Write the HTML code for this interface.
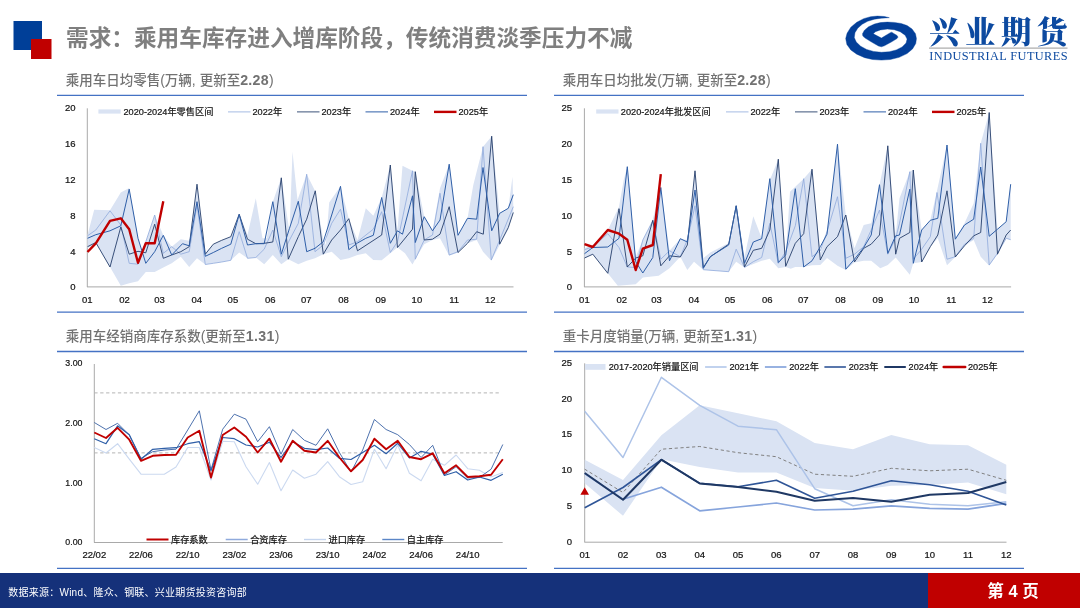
<!DOCTYPE html>
<html lang="zh"><head><meta charset="utf-8"><title>需求</title>
<style>
html,body{margin:0;padding:0;background:#fff;}
body{width:1080px;height:608px;overflow:hidden;font-family:"Liberation Sans", "Noto Sans CJK SC", sans-serif;}
svg{display:block;}
text{font-family:"Liberation Sans", "Noto Sans CJK SC", sans-serif;}
.title{font-size:22.67px;font-weight:700;fill:#7f7f7f;}
.ptitle{font-size:13.5px;font-weight:500;fill:#727272;}
.lt{font-size:14px;font-weight:400;}
.ltb{font-size:14.2px;font-weight:700;letter-spacing:0.3px;}
.src{font-size:10px;fill:#fff;}
.pg{font-size:16.5px;font-weight:700;fill:#fff;}
.ax{font-size:9.5px;fill:#141414;stroke:#141414;stroke-width:0.22px;}
.lg{font-size:9.2px;fill:#141414;stroke:#141414;stroke-width:0.2px;}
.logo1{font-family:"Liberation Serif", "Noto Serif CJK SC", serif;font-weight:900;font-size:30.5px;fill:#0d4aa0;}
.logo2{font-family:"Liberation Serif", "Noto Serif CJK SC", serif;font-size:12.3px;fill:#0d4aa0;}
</style></head><body>
<svg width="1080" height="608" viewBox="0 0 1080 608">
<rect x="13.5" y="21" width="28.5" height="29" fill="#003f98"/>
<rect x="31" y="39" width="20.5" height="20" fill="#c00000"/>
<text x="66" y="45.6" class="title">需求：乘用车库存进入增库阶段，传统消费淡季压力不减</text>
<rect x="0" y="573" width="1080" height="35" fill="#15317a"/>
<rect x="928" y="573" width="152" height="35" fill="#c00000"/>
<text x="8.3" y="595.5" class="src" textLength="238.4" lengthAdjust="spacing">数据来源：Wind、隆众、钢联、兴业期货投资咨询部</text>
<text x="1013" y="597" class="pg" text-anchor="middle">第 4 页</text>
<text x="65.7" y="85" class="ptitle">乘用车日均零售<tspan class="lt">(</tspan>万辆<tspan class="lt">, </tspan>更新至<tspan class="ltb">2.28</tspan><tspan class="lt">)</tspan></text>
<line x1="57" x2="527" y1="95.3" y2="95.3" stroke="#4472c4" stroke-width="1.3"/>
<line x1="57" x2="527" y1="312.2" y2="312.2" stroke="#4472c4" stroke-width="1.3"/>
<text x="562.7" y="85" class="ptitle">乘用车日均批发<tspan class="lt">(</tspan>万辆<tspan class="lt">, </tspan>更新至<tspan class="ltb">2.28</tspan><tspan class="lt">)</tspan></text>
<line x1="554" x2="1024" y1="95.3" y2="95.3" stroke="#4472c4" stroke-width="1.3"/>
<line x1="554" x2="1024" y1="312.2" y2="312.2" stroke="#4472c4" stroke-width="1.3"/>
<text x="65.7" y="341" class="ptitle">乘用车经销商库存系数<tspan class="lt">(</tspan>更新至<tspan class="ltb">1.31</tspan><tspan class="lt">)</tspan></text>
<line x1="57" x2="527" y1="351.5" y2="351.5" stroke="#4472c4" stroke-width="1.3"/>
<line x1="57" x2="527" y1="568.4" y2="568.4" stroke="#4472c4" stroke-width="1.3"/>
<text x="562.7" y="341" class="ptitle">重卡月度销量<tspan class="lt">(</tspan>万辆<tspan class="lt">, </tspan>更新至<tspan class="ltb">1.31</tspan><tspan class="lt">)</tspan></text>
<line x1="554" x2="1024" y1="351.5" y2="351.5" stroke="#4472c4" stroke-width="1.3"/>
<line x1="554" x2="1024" y1="568.4" y2="568.4" stroke="#4472c4" stroke-width="1.3"/>
<line x1="87.3" x2="87.3" y1="108.3" y2="287" stroke="#a9a9a9" stroke-width="1"/>
<line x1="87" x2="513.5" y1="286.9" y2="286.9" stroke="#a9a9a9" stroke-width="1"/>
<text x="75.5" y="110.7" class="ax" text-anchor="end">20</text>
<text x="75.5" y="146.7" class="ax" text-anchor="end">16</text>
<text x="75.5" y="182.7" class="ax" text-anchor="end">12</text>
<text x="75.5" y="218.5" class="ax" text-anchor="end">8</text>
<text x="75.5" y="254.5" class="ax" text-anchor="end">4</text>
<text x="75.5" y="290.3" class="ax" text-anchor="end">0</text>
<text x="87.3" y="303" class="ax" text-anchor="middle">01</text>
<text x="124.6" y="303" class="ax" text-anchor="middle">02</text>
<text x="159.5" y="303" class="ax" text-anchor="middle">03</text>
<text x="196.8" y="303" class="ax" text-anchor="middle">04</text>
<text x="232.9" y="303" class="ax" text-anchor="middle">05</text>
<text x="270.2" y="303" class="ax" text-anchor="middle">06</text>
<text x="306.2" y="303" class="ax" text-anchor="middle">07</text>
<text x="343.5" y="303" class="ax" text-anchor="middle">08</text>
<text x="380.8" y="303" class="ax" text-anchor="middle">09</text>
<text x="416.9" y="303" class="ax" text-anchor="middle">10</text>
<text x="454.2" y="303" class="ax" text-anchor="middle">11</text>
<text x="490.3" y="303" class="ax" text-anchor="middle">12</text>
<polygon points="87.5,235.0 94.2,209.7 110.0,210.3 120.8,192.5 129.2,188.0 138.0,238.3 141.7,251.7 145.8,241.7 154.7,215.0 163.3,235.3 171.7,246.7 180.8,239.2 189.2,240.8 197.0,184.2 205.3,253.3 213.3,244.2 221.7,240.3 230.8,236.7 239.2,214.2 247.5,235.0 255.8,198.3 262.5,238.3 266.7,238.3 272.8,201.7 281.3,177.8 289.5,231.7 292.5,151.7 297.5,200.0 306.7,174.2 315.0,190.8 323.3,240.0 325.8,245.0 329.2,202.5 340.5,186.3 348.8,218.7 357.5,240.0 365.8,208.3 373.3,215.8 381.7,197.5 390.3,165.0 397.5,230.0 402.5,165.8 412.5,170.8 415.3,171.7 424.2,216.7 432.5,230.8 440.0,188.3 449.2,164.2 458.0,235.0 467.5,218.3 473.3,185.0 483.0,146.7 491.7,136.2 499.7,213.3 508.3,208.3 512.5,176.7 513.3,206.7 513.3,212.5 508.3,229.2 499.7,245.0 491.3,260.8 483.0,251.7 476.7,240.0 467.5,243.3 458.0,252.5 449.2,255.8 440.0,238.3 432.5,240.0 424.2,244.2 415.3,259.2 412.5,264.5 405.0,253.3 397.5,247.5 390.3,253.3 381.7,260.3 373.3,260.0 365.8,253.3 357.5,255.0 348.8,258.3 340.5,260.0 331.7,251.7 323.3,254.2 315.0,258.3 306.7,260.8 298.3,264.2 288.3,259.2 281.3,264.2 272.8,255.0 264.2,264.2 255.8,257.5 247.5,258.3 239.2,252.5 230.8,260.3 221.7,262.0 213.3,263.3 205.3,264.5 197.0,258.3 189.2,267.0 180.8,256.7 171.7,263.3 163.3,267.5 154.7,272.0 145.8,272.0 138.0,281.3 129.2,283.3 120.8,285.8 110.0,267.0 95.8,243.3 87.5,248.3" fill="#dae3f3"/>
<polyline points="87.5,235.8 95.8,230.0 110.0,210.8 120.8,225.0 129.2,263.3 138.0,264.2 145.8,241.7 154.7,215.0 163.3,253.3 171.7,246.7 180.8,254.2 189.2,251.7 197.0,205.0 205.3,264.5 213.3,263.3 221.7,262.0 230.8,260.3 239.2,231.7 247.5,258.3 255.8,257.5 264.2,249.2 272.8,230.0 281.3,256.7 289.5,240.0 298.3,223.3 306.7,174.2 315.0,251.7 323.3,245.0 331.7,223.3 340.5,209.2 348.8,245.0 357.5,241.7 373.3,229.2 381.7,211.7 390.3,252.5 397.5,241.7 412.5,170.8 415.3,259.2 424.2,240.0 432.5,235.0 440.0,193.3 449.2,255.0 458.0,251.7 467.5,240.0 476.7,239.2 483.0,146.7 491.3,260.0 499.7,240.0 513.3,206.7" fill="none" stroke="#8faadc" stroke-width="0.8" stroke-linejoin="round" />
<polyline points="87.5,246.7 95.8,242.5 110.0,267.0 120.8,227.0 129.2,254.2 138.0,251.3 145.8,252.8 154.7,224.2 163.3,258.3 171.7,255.0 180.8,251.7 189.2,246.7 197.0,184.2 205.3,254.2 213.3,244.2 221.7,240.3 230.8,236.7 239.2,214.2 247.5,239.2 255.8,243.7 264.2,243.3 272.8,242.0 281.3,177.8 288.3,259.2 298.3,236.7 306.7,219.2 315.3,190.8 323.3,254.2 331.7,240.0 340.5,230.0 348.8,218.7 357.5,250.8 381.7,235.0 390.3,165.0 397.5,247.5 412.5,229.2 415.3,171.7 424.2,240.0 432.5,239.2 440.0,234.2 449.2,206.7 458.0,252.5 467.5,243.3 476.7,231.7 483.3,234.2 491.7,136.2 499.7,244.2 508.3,227.5 513.3,212.5" fill="none" stroke="#263e6b" stroke-width="0.9" stroke-linejoin="round" />
<polyline points="87.5,238.3 95.8,234.7 110.0,230.8 120.8,225.8 129.2,189.2 138.0,238.3 145.8,263.3 154.7,251.7 163.3,235.3 171.7,255.0 182.5,243.7 189.2,245.8 197.0,201.7 205.3,256.3 213.3,252.5 221.7,248.3 230.8,244.2 239.2,214.5 247.5,245.0 255.8,243.7 264.2,243.7 272.8,201.7 281.3,254.2 289.5,228.3 298.3,201.3 306.7,251.7 315.0,248.3 323.3,241.7 331.7,215.0 340.5,186.3 348.8,249.7 357.5,243.0 365.8,238.3 373.3,235.3 381.7,197.5 390.3,243.3 397.5,230.8 402.5,234.2 412.5,195.8 415.3,242.5 424.2,216.7 432.5,230.8 440.0,220.0 449.2,164.2 458.0,235.3 467.5,218.3 476.7,219.2 483.0,167.5 491.7,230.8 499.7,213.3 508.3,208.3 513.3,194.7" fill="none" stroke="#2f5fa8" stroke-width="1" stroke-linejoin="round" />
<polyline points="87.5,252.0 95.8,243.3 110.0,220.8 120.8,218.3 129.2,229.2 138.0,262.8 145.8,243.3 154.7,243.3 163.3,201.3" fill="none" stroke="#c00000" stroke-width="2.4" stroke-linejoin="round" />
<rect x="98.4" y="109.4" width="22.3" height="4.2" fill="#dae3f3"/>
<text x="123.5" y="114.6" class="lg" text-anchor="start">2020-2024年零售区间</text>
<line x1="228" x2="250.5" y1="111.9" y2="111.9" stroke="#8faadc" stroke-width="0.8"/>
<text x="252.5" y="114.6" class="lg" text-anchor="start">2022年</text>
<line x1="297" x2="319.5" y1="111.9" y2="111.9" stroke="#263e6b" stroke-width="0.9"/>
<text x="321.5" y="114.6" class="lg" text-anchor="start">2023年</text>
<line x1="365.5" x2="388" y1="111.9" y2="111.9" stroke="#2f5fa8" stroke-width="1"/>
<text x="390" y="114.6" class="lg" text-anchor="start">2024年</text>
<line x1="434" x2="456.5" y1="111.9" y2="111.9" stroke="#c00000" stroke-width="2.4"/>
<text x="458.5" y="114.6" class="lg" text-anchor="start">2025年</text>
<line x1="584.4" x2="584.4" y1="108.3" y2="287" stroke="#a9a9a9" stroke-width="1"/>
<line x1="584.1" x2="1011.1" y1="286.9" y2="286.9" stroke="#a9a9a9" stroke-width="1"/>
<text x="572" y="111.2" class="ax" text-anchor="end">25</text>
<text x="572" y="147" class="ax" text-anchor="end">20</text>
<text x="572" y="182.9" class="ax" text-anchor="end">15</text>
<text x="572" y="218.7" class="ax" text-anchor="end">10</text>
<text x="572" y="254.5" class="ax" text-anchor="end">5</text>
<text x="572" y="290.3" class="ax" text-anchor="end">0</text>
<text x="584.4" y="303" class="ax" text-anchor="middle">01</text>
<text x="621.7" y="303" class="ax" text-anchor="middle">02</text>
<text x="656.6" y="303" class="ax" text-anchor="middle">03</text>
<text x="693.9" y="303" class="ax" text-anchor="middle">04</text>
<text x="730" y="303" class="ax" text-anchor="middle">05</text>
<text x="767.3" y="303" class="ax" text-anchor="middle">06</text>
<text x="803.3" y="303" class="ax" text-anchor="middle">07</text>
<text x="840.6" y="303" class="ax" text-anchor="middle">08</text>
<text x="877.9" y="303" class="ax" text-anchor="middle">09</text>
<text x="914" y="303" class="ax" text-anchor="middle">10</text>
<text x="951.3" y="303" class="ax" text-anchor="middle">11</text>
<text x="987.4" y="303" class="ax" text-anchor="middle">12</text>
<polygon points="584.5,248.3 592.8,245.0 607.8,230.0 619.0,206.7 623.7,180.0 627.3,166.7 635.7,256.7 642.8,240.0 652.8,219.2 660.8,187.5 669.5,250.8 680.3,238.7 687.3,240.0 695.0,170.8 703.3,258.3 710.3,252.5 728.7,243.0 736.2,205.8 744.5,256.7 753.3,216.3 761.7,238.3 769.8,178.7 771.2,176.7 778.3,159.2 785.7,256.7 790.0,191.7 803.7,178.7 812.0,169.2 820.3,253.3 827.0,231.7 837.5,144.2 845.8,215.0 854.5,248.3 863.7,225.0 871.2,223.3 879.5,184.7 887.8,145.8 895.7,235.0 899.5,198.3 909.8,171.7 913.3,170.0 921.7,230.0 930.3,220.3 937.0,190.8 947.0,145.0 955.3,238.3 964.5,223.3 973.7,203.3 980.7,143.3 989.2,112.5 997.5,229.2 1006.2,221.7 1010.7,184.2 1010.7,239.7 1006.2,238.3 997.5,254.2 989.2,265.8 980.7,256.7 973.7,240.0 964.5,245.8 955.3,257.0 947.0,265.3 937.8,238.3 930.3,246.7 921.7,262.0 913.3,263.3 909.8,274.7 895.7,257.5 887.8,265.0 880.3,268.3 871.2,260.8 863.7,260.8 854.5,262.5 845.8,270.0 837.5,265.8 827.0,258.0 820.3,265.0 812.0,265.3 803.7,267.0 795.3,267.0 790.7,268.7 785.7,267.0 778.3,268.3 769.8,258.7 761.7,260.8 744.5,267.5 736.2,261.7 728.7,271.7 703.3,269.7 694.0,261.7 687.3,270.0 680.3,256.7 669.5,268.3 658.7,275.8 642.8,277.5 635.7,284.2 617.8,285.8 607.8,273.3 592.8,254.2 584.5,258.0" fill="#dae3f3"/>
<polyline points="584.5,249.7 592.8,246.7 607.8,233.7 619.0,247.5 627.3,267.0 635.7,267.5 642.8,240.0 652.8,220.8 660.8,259.2 669.5,250.8 680.3,256.7 687.3,240.0 695.0,205.8 703.3,269.7 728.7,271.7 736.2,249.2 744.5,267.5 753.3,261.7 761.7,257.5 769.8,223.3 778.3,263.3 785.7,251.7 795.3,225.8 803.7,178.7 812.0,256.7 820.3,250.8 827.0,231.7 837.5,196.7 845.8,258.3 854.5,254.2 863.7,246.7 871.2,230.0 879.5,210.0 887.8,254.2 895.7,238.3 899.5,223.3 909.8,171.7 913.3,259.2 921.7,249.2 930.3,236.7 933.7,215.8 937.0,192.5 947.0,259.2 955.3,256.7 964.5,244.2 973.7,238.3 980.7,143.3 989.2,265.0 997.5,253.3 1006.2,238.3 1010.7,239.7" fill="none" stroke="#8faadc" stroke-width="0.8" stroke-linejoin="round" />
<polyline points="584.5,258.0 592.8,254.2 607.8,273.3 619.0,208.7 627.3,267.0 635.7,258.0 642.8,255.8 652.8,220.3 660.8,265.8 669.5,255.8 680.3,257.0 687.3,245.0 695.0,170.8 703.3,267.5 710.3,256.7 728.7,244.2 736.2,205.8 744.5,267.0 753.3,250.3 761.7,248.3 769.8,230.0 778.3,159.2 785.7,266.3 795.3,243.3 803.7,233.7 812.0,169.2 820.3,260.0 827.0,246.7 837.5,236.7 845.8,215.0 854.5,262.0 863.7,248.3 871.2,244.2 879.5,235.0 887.8,145.8 895.7,254.2 899.5,238.3 909.8,232.5 913.3,170.0 921.7,262.0 930.3,246.7 937.8,235.0 947.0,190.8 955.3,257.0 964.5,245.8 973.7,235.8 980.7,232.5 989.2,112.5 997.5,254.2 1006.2,235.0 1010.7,230.0" fill="none" stroke="#263e6b" stroke-width="0.9" stroke-linejoin="round" />
<polyline points="584.5,253.7 592.8,247.5 607.8,247.0 619.0,238.3 627.3,166.7 635.7,261.7 642.8,273.0 652.8,257.5 660.8,187.5 669.5,260.8 680.3,238.7 687.3,242.0 695.0,190.0 703.3,268.3 710.3,256.7 728.7,245.0 736.2,205.8 744.5,263.3 753.3,242.0 761.7,238.7 769.8,178.7 778.3,262.5 785.7,255.0 795.3,188.7 803.7,267.0 812.0,260.8 820.3,246.7 827.0,234.2 837.5,144.2 845.8,269.2 854.5,259.2 863.7,247.5 871.2,235.0 879.5,184.7 887.8,253.3 895.7,235.8 899.5,235.0 909.8,189.2 913.3,263.3 921.7,230.0 930.3,220.3 937.8,218.3 947.0,145.0 955.3,239.2 964.5,225.0 973.7,219.2 980.7,167.0 989.2,236.3 997.5,229.2 1006.2,221.7 1010.7,184.2" fill="none" stroke="#2f5fa8" stroke-width="1" stroke-linejoin="round" />
<polyline points="584.5,244.2 592.8,247.0 607.8,230.0 619.0,233.7 627.3,239.7 635.7,270.0 642.8,248.7 652.8,245.0 660.8,174.2" fill="none" stroke="#c00000" stroke-width="2.4" stroke-linejoin="round" />
<rect x="596.2" y="109.4" width="22.3" height="4.2" fill="#dae3f3"/>
<text x="620.8" y="114.6" class="lg" text-anchor="start">2020-2024年批发区间</text>
<line x1="726" x2="748.5" y1="111.9" y2="111.9" stroke="#8faadc" stroke-width="0.8"/>
<text x="750.5" y="114.6" class="lg" text-anchor="start">2022年</text>
<line x1="795" x2="817.5" y1="111.9" y2="111.9" stroke="#263e6b" stroke-width="0.9"/>
<text x="819.5" y="114.6" class="lg" text-anchor="start">2023年</text>
<line x1="863.5" x2="886" y1="111.9" y2="111.9" stroke="#2f5fa8" stroke-width="1"/>
<text x="888" y="114.6" class="lg" text-anchor="start">2024年</text>
<line x1="932" x2="954.5" y1="111.9" y2="111.9" stroke="#c00000" stroke-width="2.4"/>
<text x="956.5" y="114.6" class="lg" text-anchor="start">2025年</text>
<line x1="94.3" x2="94.3" y1="364" y2="542.5" stroke="#a9a9a9" stroke-width="1"/>
<line x1="94" x2="502.7" y1="542.5" y2="542.5" stroke="#a9a9a9" stroke-width="1"/>
<text x="65.3" y="365.7" class="ax" textLength="17.2" lengthAdjust="spacingAndGlyphs">3.00</text>
<text x="65.3" y="425.6" class="ax" textLength="17.2" lengthAdjust="spacingAndGlyphs">2.00</text>
<text x="65.3" y="485.5" class="ax" textLength="17.2" lengthAdjust="spacingAndGlyphs">1.00</text>
<text x="65.3" y="545.4" class="ax" textLength="17.2" lengthAdjust="spacingAndGlyphs">0.00</text>
<text x="94.3" y="558" class="ax" text-anchor="middle">22/02</text>
<text x="140.98" y="558" class="ax" text-anchor="middle">22/06</text>
<text x="187.66" y="558" class="ax" text-anchor="middle">22/10</text>
<text x="234.34" y="558" class="ax" text-anchor="middle">23/02</text>
<text x="281.02" y="558" class="ax" text-anchor="middle">23/06</text>
<text x="327.7" y="558" class="ax" text-anchor="middle">23/10</text>
<text x="374.38" y="558" class="ax" text-anchor="middle">24/02</text>
<text x="421.06" y="558" class="ax" text-anchor="middle">24/06</text>
<text x="467.74" y="558" class="ax" text-anchor="middle">24/10</text>
<line x1="94.3" x2="499" y1="392.9" y2="392.9" stroke="#b4b4b4" stroke-width="1" stroke-dasharray="3.3 2.6"/>
<line x1="94.3" x2="499" y1="452.9" y2="452.9" stroke="#b4b4b4" stroke-width="1" stroke-dasharray="3.3 2.6"/>
<polyline points="94.3,447.5 106.0,453.0 117.6,443.7 129.3,459.2 141.0,474.2 152.7,474.2 164.3,474.2 176.0,467.0 187.7,447.5 199.3,447.5 211.0,480.0 222.7,441.3 234.3,441.7 246.0,466.7 257.7,484.2 269.4,462.5 281.0,490.8 292.7,470.0 304.4,478.3 316.0,474.2 327.7,461.7 339.4,476.7 351.0,484.5 362.7,481.7 374.4,449.2 386.1,468.7 397.7,445.0 409.4,473.3 421.1,480.8 432.7,459.2 444.4,465.3 456.1,455.0 467.7,468.7 479.4,470.3 491.1,477.0 502.8,472.5" fill="none" stroke="#cbd9f0" stroke-width="1.1" stroke-linejoin="round" />
<polyline points="94.3,422.5 106.0,429.5 117.6,423.3 129.3,435.0 141.0,458.3 152.7,451.7 164.3,450.0 176.0,449.2 187.7,430.0 199.3,410.8 211.0,470.0 222.7,429.2 234.3,414.2 246.0,419.2 257.7,441.7 269.4,426.7 281.0,454.2 292.7,429.5 304.4,440.3 316.0,445.3 327.7,428.8 339.4,452.5 351.0,472.0 362.7,450.0 374.4,419.5 386.1,429.5 397.7,434.7 409.4,444.5 421.1,457.5 432.7,445.3 444.4,475.0 456.1,466.7 467.7,478.0 479.4,477.5 491.1,469.2 502.8,444.5" fill="none" stroke="#3a62a5" stroke-width="0.9" stroke-linejoin="round" />
<polyline points="94.3,438.7 106.0,443.7 117.6,425.8 129.3,434.7 141.0,459.2 152.7,449.3 164.3,448.3 176.0,447.7 187.7,443.7 199.3,441.7 211.0,470.8 222.7,437.5 234.3,438.7 246.0,445.0 257.7,447.0 269.4,442.2 281.0,457.5 292.7,441.7 304.4,448.3 316.0,449.7 327.7,448.0 339.4,458.3 351.0,459.5 362.7,452.5 374.4,445.3 386.1,453.7 397.7,443.3 409.4,458.0 421.1,451.3 432.7,454.2 444.4,475.5 456.1,471.7 467.7,480.0 479.4,477.0 491.1,480.3 502.8,474.2" fill="none" stroke="#2f5fa8" stroke-width="1.2" stroke-linejoin="round" />
<polyline points="94.3,432.5 106.0,438.0 117.6,427.8 129.3,439.7 141.0,460.8 152.7,455.8 164.3,455.0 176.0,454.7 187.7,437.5 199.3,430.8 211.0,477.5 222.7,435.0 234.3,427.5 246.0,436.7 257.7,452.5 269.4,438.7 281.0,461.7 292.7,440.8 304.4,450.8 316.0,452.5 327.7,440.8 339.4,457.5 351.0,471.3 362.7,460.0 374.4,438.7 386.1,449.2 397.7,440.8 409.4,457.0 421.1,459.2 432.7,453.3 444.4,473.3 456.1,465.3 467.7,477.0 479.4,476.2 491.1,474.7 502.8,459.2" fill="none" stroke="#c00000" stroke-width="1.9" stroke-linejoin="round" />
<line x1="146.5" x2="168.5" y1="539.5" y2="539.5" stroke="#c00000" stroke-width="2"/>
<text x="171" y="543" class="lg" text-anchor="start">库存系数</text>
<line x1="225.7" x2="247.7" y1="539.5" y2="539.5" stroke="#8faadc" stroke-width="1.5"/>
<text x="250.2" y="543" class="lg" text-anchor="start">合资库存</text>
<line x1="304" x2="326" y1="539.5" y2="539.5" stroke="#c5d5ee" stroke-width="1.4"/>
<text x="328.5" y="543" class="lg" text-anchor="start">进口库存</text>
<line x1="382.3" x2="404.3" y1="539.5" y2="539.5" stroke="#5b86c7" stroke-width="1.4"/>
<text x="406.8" y="543" class="lg" text-anchor="start">自主库存</text>
<line x1="584.7" x2="584.7" y1="363.3" y2="542.2" stroke="#a9a9a9" stroke-width="1"/>
<line x1="584.4" x2="1006.5" y1="542.2" y2="542.2" stroke="#a9a9a9" stroke-width="1"/>
<text x="572" y="365.7" class="ax" text-anchor="end">25</text>
<text x="572" y="401.6" class="ax" text-anchor="end">20</text>
<text x="572" y="437.3" class="ax" text-anchor="end">15</text>
<text x="572" y="473.2" class="ax" text-anchor="end">10</text>
<text x="572" y="509" class="ax" text-anchor="end">5</text>
<text x="572" y="544.8" class="ax" text-anchor="end">0</text>
<text x="584.7" y="558" class="ax" text-anchor="middle">01</text>
<text x="623.03" y="558" class="ax" text-anchor="middle">02</text>
<text x="661.36" y="558" class="ax" text-anchor="middle">03</text>
<text x="699.69" y="558" class="ax" text-anchor="middle">04</text>
<text x="738.02" y="558" class="ax" text-anchor="middle">05</text>
<text x="776.35" y="558" class="ax" text-anchor="middle">06</text>
<text x="814.68" y="558" class="ax" text-anchor="middle">07</text>
<text x="853.01" y="558" class="ax" text-anchor="middle">08</text>
<text x="891.34" y="558" class="ax" text-anchor="middle">09</text>
<text x="929.67" y="558" class="ax" text-anchor="middle">10</text>
<text x="968" y="558" class="ax" text-anchor="middle">11</text>
<text x="1006.33" y="558" class="ax" text-anchor="middle">12</text>
<polygon points="584.7,459.7 623.0,480.0 661.4,435.3 699.7,405.3 738.0,413.3 776.4,421.3 814.7,443.0 853.0,449.2 891.3,435.0 929.7,444.2 968.0,445.3 1006.3,464.7 1006.3,494.2 968.0,482.5 929.7,485.0 891.3,485.8 853.0,490.8 814.7,488.0 776.4,472.5 738.0,472.5 699.7,467.0 661.4,459.2 623.0,515.8 584.7,483.3" fill="#dae3f3"/>
<polyline points="584.7,469.2 623.0,492.5 661.4,449.2 699.7,446.5 738.0,452.7 776.4,456.7 814.7,474.2 853.0,476.3 891.3,468.3 929.7,470.8 968.0,469.2 1006.3,480.3" fill="none" stroke="#808080" stroke-width="1" stroke-linejoin="round" stroke-dasharray="3.2 2.6"/>
<polyline points="584.7,411.2 623.0,457.5 661.4,377.3 699.7,405.3 738.0,426.2 776.4,429.7 814.7,488.7 853.0,505.8 891.3,499.7 929.7,504.2 968.0,505.8 1006.3,501.7" fill="none" stroke="#adc3e8" stroke-width="1.5" stroke-linejoin="round" />
<polyline points="584.7,473.5 623.0,499.2 661.4,487.2 699.7,510.8 738.0,507.0 776.4,503.0 814.7,510.0 853.0,509.2 891.3,505.8 929.7,508.3 968.0,509.2 1006.3,503.3" fill="none" stroke="#86a4dc" stroke-width="1.7" stroke-linejoin="round" />
<polyline points="584.7,507.8 623.0,487.5 661.4,459.7 699.7,483.3 738.0,486.7 776.4,480.3 814.7,498.3 853.0,491.3 891.3,480.8 929.7,484.7 968.0,491.3 1006.3,505.0" fill="none" stroke="#2f5597" stroke-width="1.6" stroke-linejoin="round" />
<polyline points="584.7,473.0 623.0,499.7 661.4,459.7 699.7,483.5 738.0,487.0 776.4,491.7 814.7,500.8 853.0,498.0 891.3,501.7 929.7,494.7 968.0,493.0 1006.3,482.0" fill="none" stroke="#1f3864" stroke-width="2" stroke-linejoin="round" />
<polygon points="584.7,487.3 580.4,494.8 589,494.8" fill="#c00000"/>
<rect x="585" y="364" width="20.5" height="5.8" fill="#dae3f3"/>
<text x="608.7" y="370.3" class="lg" text-anchor="start">2017-2020年销量区间</text>
<line x1="705.1" x2="726.6" y1="367" y2="367" stroke="#adc3e8" stroke-width="1.5" stroke-linecap="butt"/>
<text x="729.4" y="370.3" class="lg" text-anchor="start">2021年</text>
<line x1="764.9" x2="786.4" y1="367" y2="367" stroke="#86a4dc" stroke-width="1.7" stroke-linecap="butt"/>
<text x="789.2" y="370.3" class="lg" text-anchor="start">2022年</text>
<line x1="824.4" x2="845.9" y1="367" y2="367" stroke="#2f5597" stroke-width="1.6" stroke-linecap="butt"/>
<text x="848.7" y="370.3" class="lg" text-anchor="start">2023年</text>
<line x1="884.3" x2="905.8" y1="367" y2="367" stroke="#1f3864" stroke-width="2" stroke-linecap="butt"/>
<text x="908.6" y="370.3" class="lg" text-anchor="start">2024年</text>
<line x1="943.7" x2="965.2" y1="367" y2="367" stroke="#c00000" stroke-width="2.5" stroke-linecap="round"/>
<text x="968" y="370.3" class="lg" text-anchor="start">2025年</text>
<polygon points="889.32,17.67 884.38,16.49 877.47,16.09 870.57,16.68 863.66,18.66 856.75,22.31 850.83,27.24 847.08,33.16 845.70,38.59 846.88,44.51 850.83,49.94 856.75,54.18 864.64,57.64 872.54,59.51 881.42,60.11 890.30,59.51 899.18,57.34 907.08,53.59 912.51,48.95 915.76,43.53 916.45,38.59 915.47,33.66 912.01,28.92 907.08,25.57 901.16,23.49 894.25,22.41 887.34,22.11 880.43,22.61 874.51,23.99 868.59,26.75 864.45,30.20 862.47,33.86 862.87,36.12 865.14,38.10 871.55,42.05 878.46,45.99 881.42,46.78 884.38,45.80 891.29,42.05 897.01,38.59 898.00,37.11 897.01,35.43 893.26,33.16 891.78,32.18 890.30,32.67 881.42,38.10 873.33,33.86 875.50,31.68 880.43,29.91 887.34,29.12 894.25,29.71 900.17,31.68 905.11,35.14 907.08,39.09 906.09,43.03 902.14,46.98 896.22,49.94 889.32,51.72 881.42,52.31 873.53,51.42 866.62,49.45 860.70,46.29 856.26,42.05 854.28,37.61 854.97,32.67 857.74,28.23 862.18,24.28 867.61,21.32 874.51,19.15 881.42,18.16" fill="#033f99" stroke="#033f99" stroke-width="0.4" stroke-linejoin="round"/>
<text x="929" y="43.2" class="logo1" textLength="138.5" lengthAdjust="spacing">兴业期货</text>
<line x1="929" x2="1067.5" y1="48.1" y2="48.1" stroke="#8c8c8c" stroke-width="0.9"/>
<text x="929.3" y="59.9" class="logo2" textLength="138.2" lengthAdjust="spacing">INDUSTRIAL FUTURES</text>
</svg>
</body></html>
